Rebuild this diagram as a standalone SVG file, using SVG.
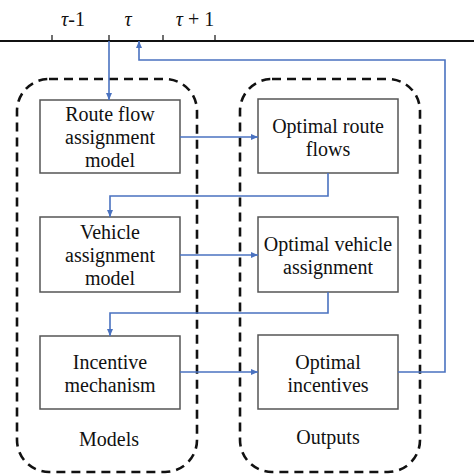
<svg xmlns="http://www.w3.org/2000/svg" width="474" height="474" viewBox="0 0 474 474">
<style>
.box{fill:#fff;stroke:#555;stroke-width:1.5}
.dash{fill:none;stroke:#111;stroke-width:2.6;stroke-dasharray:9 6}
.c{fill:none;stroke:#4a72c0;stroke-width:1.6}
</style>
<defs>
<marker id="ah" markerWidth="8" markerHeight="8" refX="7" refY="4" orient="auto" markerUnits="userSpaceOnUse">
<path d="M0,1 L7,4 L0,7 Z" fill="#4a72c0"/>
</marker>
</defs>
<rect width="474" height="474" fill="#fff"/>
<g fill="#111" text-anchor="middle">
<g id="timeline">
<line x1="0" y1="41" x2="474" y2="41" stroke="#111" stroke-width="2.2"/>
<path d="M52,35V41M109,35V41M163,35V41M215,35V41" stroke="#111" stroke-width="1.2"/>
<text x="73" y="26" font-family="Liberation Serif" font-size="20" style="font-family:'Liberation Serif';font-size:20px"><tspan font-style="italic">τ</tspan>-1</text>
<text x="128" y="26" font-family="Liberation Serif" font-size="20" style="font-family:'Liberation Serif';font-size:20px;font-style:italic">τ</text>
<text x="195" y="26" font-family="Liberation Serif" font-size="20" style="font-family:'Liberation Serif';font-size:20px"><tspan font-style="italic">τ</tspan> + 1</text>
</g>
<g id="models-group">
<rect class="dash" x="17" y="79" width="180" height="393" rx="32"/>
<text x="109" y="446" font-family="Liberation Serif" font-size="20" style="font-family:'Liberation Serif';font-size:20px">Models</text>
</g>
<g id="outputs-group">
<rect class="dash" x="240" y="79" width="180" height="393" rx="32"/>
<text x="328" y="444" font-family="Liberation Serif" font-size="20" style="font-family:'Liberation Serif';font-size:20px">Outputs</text>
</g>
<g id="route-flow-model">
<rect class="box" x="40" y="100" width="140" height="73"/>
<text x="110" y="121" font-family="Liberation Serif" font-size="20" style="font-family:'Liberation Serif';font-size:20px">Route flow</text>
<text x="110" y="144" font-family="Liberation Serif" font-size="20" style="font-family:'Liberation Serif';font-size:20px">assignment</text>
<text x="110" y="167" font-family="Liberation Serif" font-size="20" style="font-family:'Liberation Serif';font-size:20px">model</text>
</g>
<g id="vehicle-model">
<rect class="box" x="40" y="217" width="140" height="75"/>
<text x="110" y="239" font-family="Liberation Serif" font-size="20" style="font-family:'Liberation Serif';font-size:20px">Vehicle</text>
<text x="110" y="262" font-family="Liberation Serif" font-size="20" style="font-family:'Liberation Serif';font-size:20px">assignment</text>
<text x="110" y="285" font-family="Liberation Serif" font-size="20" style="font-family:'Liberation Serif';font-size:20px">model</text>
</g>
<g id="incentive-mechanism">
<rect class="box" x="40" y="336" width="140" height="73"/>
<text x="110" y="369" font-family="Liberation Serif" font-size="20" style="font-family:'Liberation Serif';font-size:20px">Incentive</text>
<text x="110" y="392" font-family="Liberation Serif" font-size="20" style="font-family:'Liberation Serif';font-size:20px">mechanism</text>
</g>
<g id="optimal-route-flows">
<rect class="box" x="258" y="99" width="140" height="74"/>
<text x="328" y="133" font-family="Liberation Serif" font-size="20" style="font-family:'Liberation Serif';font-size:20px">Optimal route</text>
<text x="328" y="156" font-family="Liberation Serif" font-size="20" style="font-family:'Liberation Serif';font-size:20px">flows</text>
</g>
<g id="optimal-vehicle-assignment">
<rect class="box" x="258" y="217" width="140" height="75"/>
<text x="328" y="251" font-family="Liberation Serif" font-size="20" style="font-family:'Liberation Serif';font-size:20px">Optimal vehicle</text>
<text x="328" y="274" font-family="Liberation Serif" font-size="20" style="font-family:'Liberation Serif';font-size:20px">assignment</text>
</g>
<g id="optimal-incentives">
<rect class="box" x="258" y="335" width="140" height="74"/>
<text x="328" y="369" font-family="Liberation Serif" font-size="20" style="font-family:'Liberation Serif';font-size:20px">Optimal</text>
<text x="328" y="392" font-family="Liberation Serif" font-size="20" style="font-family:'Liberation Serif';font-size:20px">incentives</text>
</g>
</g>
<g id="connectors">
<path class="c" d="M109,41V100" marker-end="url(#ah)"/>
<path class="c" d="M180,137H258" marker-end="url(#ah)"/>
<path class="c" d="M328,173V196H110V217" marker-end="url(#ah)"/>
<path class="c" d="M180,255H258" marker-end="url(#ah)"/>
<path class="c" d="M328,292V313H110V336" marker-end="url(#ah)"/>
<path class="c" d="M180,372H258" marker-end="url(#ah)"/>
<path class="c" d="M398,372H445V60H139V41" marker-end="url(#ah)"/>
</g>
</svg>
